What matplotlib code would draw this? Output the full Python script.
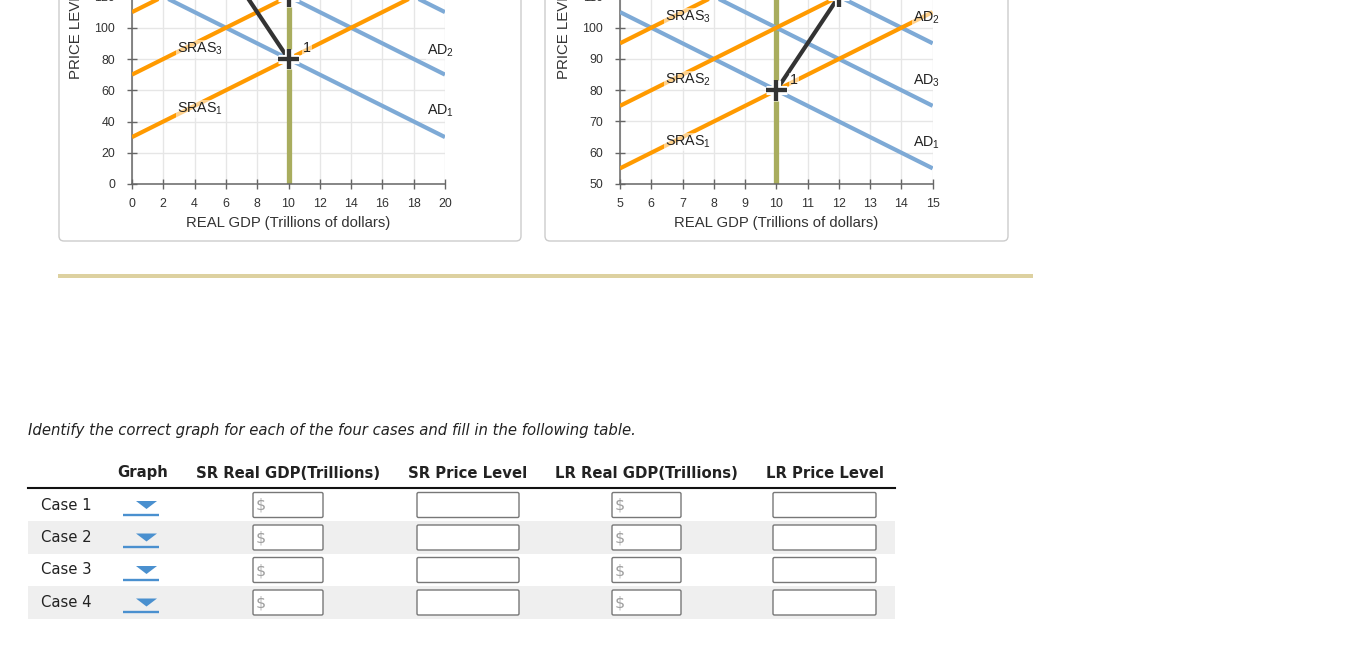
import matplotlib
matplotlib.use('Agg')
import matplotlib.pyplot as plt
from matplotlib.patches import FancyBboxPatch, Rectangle, Polygon
import matplotlib.patheffects as pe
import numpy as np

W, H = 1371, 650
DPI = 100

# ---------------- data ----------------
# Left graph (Real GDP 0-20, price level from 0)
left_x = [0, 20]
left_sras1 = [30, 130]
left_sras3 = [70, 170]
left_sras2 = [110, 210]
left_ad1 = [130, 30]
left_ad2 = [170, 70]
left_ad3 = [210, 110]
left_lras_x = 10
left_path_x = [10, 6]
left_path_y = [80, 140]
left_points_x = [10, 10]
left_points_y = [80, 120]
left_xticks = list(range(0, 21, 2))
left_yticks = list(range(0, 161, 20))

# Right graph (Real GDP 5-15, price level from 50)
right_x = [5, 15]
right_sras1 = [55, 105]
right_sras2 = [75, 125]
right_sras3 = [95, 145]
right_ad1 = [105, 55]
right_ad3 = [125, 75]
right_ad2 = [145, 95]
right_lras_x = 10
right_path_x = [10, 12]
right_path_y = [80, 110]
right_points_x = [10, 12]
right_points_y = [80, 110]
right_xticks = list(range(5, 16))
right_yticks = list(range(50, 131, 10))

# Table
cases = ['Case 1', 'Case 2', 'Case 3', 'Case 4']
headers = ['Graph', 'SR Real GDP(Trillions)', 'SR Price Level',
           'LR Real GDP(Trillions)', 'LR Price Level']
prompt = 'Identify the correct graph for each of the four cases and fill in the following table.'

ORANGE = '#ff9a00'
BLUE = '#7eaad6'
GREEN = '#a9ad5e'
BLACK = '#333333'
CHART_FONT = 'Liberation Sans'
TABLE_FONT = 'DejaVu Sans'
TFS = 10.7

plt.rcParams['mathtext.default'] = 'regular'
plt.rcParams['font.family'] = CHART_FONT

fig = plt.figure(figsize=(W / DPI, H / DPI), dpi=DPI)

# background axes in pixel coordinates
bg = fig.add_axes([0, 0, 1, 1], zorder=0)
bg.set_xlim(0, W)
bg.set_ylim(H, 0)
bg.axis('off')

# chart cards
for x0, x1 in [(59, 521), (545, 1008)]:
    card = FancyBboxPatch((x0, -30), x1 - x0, 241 + 30,
                          boxstyle='round,pad=0,rounding_size=5',
                          facecolor='white', edgecolor='#cccccc', lw=1.0)
    bg.add_patch(card)

# separator
bg.add_patch(Rectangle((58, 274), 1033 - 58, 4, facecolor='#ddd1a0', edgecolor='none'))

# y labels of charts (cut at the top, as in the reference)
for xc in [76.5, 564.5]:
    bg.text(xc, 79, 'PRICE LEVEL', rotation=90, ha='center', va='bottom',
            fontsize=10.8, color='#333333', family=CHART_FONT)


def make_chart(px_left, px_right, xlim, ybottom, px_per_y, ytop_px=-80):
    ytop = ybottom + (184 - ytop_px) / px_per_y
    ax = fig.add_axes([px_left / W, (H - 184) / H,
                       (px_right - px_left) / W, (184 - ytop_px) / H], zorder=2)
    ax.set_xlim(*xlim)
    ax.set_ylim(ybottom, ytop)
    ax.set_facecolor('none')
    for s in ['top', 'right']:
        ax.spines[s].set_visible(False)
    for s in ['left', 'bottom']:
        ax.spines[s].set_color('#666666')
        ax.spines[s].set_linewidth(1.1)
    ax.grid(True, color='#e6e6e6', lw=1.0, zorder=0)
    ax.set_axisbelow(True)
    ax.tick_params(direction='inout', length=6.5, width=1.0, color='#666666',
                   labelsize=8.9, labelcolor='#333333')
    ax.tick_params(axis='x', pad=7)
    ax.tick_params(axis='y', pad=9)
    ax.set_xlabel('REAL GDP (Trillions of dollars)', fontsize=10.7, color='#333333',
                  labelpad=4)
    return ax


def label(ax, x, y, s):
    ax.text(x, y, s, fontsize=10.3, color='#222222', ha='left', va='baseline', zorder=6,
            bbox=dict(facecolor='white', alpha=0.55, edgecolor='none', pad=0.5))


def marker(ax, x, y):
    ax.plot([x], [y], marker='+', ms=15, mew=3.1, color=BLACK, ls='none', zorder=7,
            clip_on=False,
            path_effects=[pe.Stroke(linewidth=6.6, foreground='white'), pe.Normal()])


# ---------------- left chart ----------------
axL = make_chart(132, 445, (0, 20), 0, 1.5625)
axL.set_xticks(left_xticks)
axL.set_yticks(left_yticks)
axL.axvline(left_lras_x, color=GREEN, lw=3.8, zorder=2)
for yv in [left_ad1, left_ad2, left_ad3]:
    axL.plot(left_x, yv, color=BLUE, lw=3.0, zorder=3, solid_capstyle='butt')
for yv in [left_sras1, left_sras3, left_sras2]:
    axL.plot(left_x, yv, color=ORANGE, lw=3.0, zorder=4, solid_capstyle='butt')
axL.plot(left_path_x, left_path_y, color=BLACK, lw=3.0, zorder=5)
for x, y in zip(left_points_x, left_points_y):
    marker(axL, x, y)
label(axL, 2.88, 83.8, 'SRAS$_3$')
label(axL, 2.88, 45.4, 'SRAS$_1$')
label(axL, 18.86, 82.5, 'AD$_2$')
label(axL, 18.86, 44.1, 'AD$_1$')
label(axL, 10.93, 84.4, '1')

# ---------------- right chart ----------------
axR = make_chart(620, 932.7, (5, 15), 50, 3.126)
axR.set_xticks(right_xticks)
axR.set_yticks(right_yticks)
axR.axvline(right_lras_x, color=GREEN, lw=3.8, zorder=2)
for yv in [right_ad1, right_ad3, right_ad2]:
    axR.plot(right_x, yv, color=BLUE, lw=3.0, zorder=3, solid_capstyle='butt')
for yv in [right_sras1, right_sras2, right_sras3]:
    axR.plot(right_x, yv, color=ORANGE, lw=3.0, zorder=4, solid_capstyle='butt')
axR.plot(right_path_x, right_path_y, color=BLACK, lw=3.0, zorder=5)
for x, y in zip(right_points_x, right_points_y):
    marker(axR, x, y)
label(axR, 6.44, 102.2, 'SRAS$_3$')
label(axR, 6.44, 82.2, 'SRAS$_2$')
label(axR, 6.44, 62.2, 'SRAS$_1$')
label(axR, 14.37, 101.9, 'AD$_2$')
label(axR, 14.37, 81.7, 'AD$_3$')
label(axR, 14.37, 61.9, 'AD$_1$')
label(axR, 10.44, 81.9, '1')

# ---------------- prompt and table ----------------
bg.text(28, 431, prompt, fontsize=TFS, style='italic', family=TABLE_FONT,
        color='#222222', va='center', ha='left')

header_x = [143, 288, 467.5, 646.5, 825]
for hx, htxt in zip(header_x, headers):
    bg.text(hx, 473, htxt, fontsize=TFS, weight='bold', family=TABLE_FONT,
            color='#222222', ha='center', va='center')

row_top = [489, 521, 554, 586]
row_h = [32, 33, 32, 33]
for i, (case, rt, rh) in enumerate(zip(cases, row_top, row_h)):
    if i % 2 == 1:
        bg.add_patch(Rectangle((28, rt), 895 - 28, rh, facecolor='#efefef',
                               edgecolor='none', zorder=1))
    yc = rt + rh / 2
    bg.text(41, yc, case, fontsize=TFS, family=TABLE_FONT, color='#222222',
            ha='left', va='center', zorder=3)
    # dropdown
    bg.add_patch(Polygon([[136, yc - 4], [157, yc - 4], [146.5, yc + 4]],
                         closed=True, facecolor='#4a90cf', edgecolor='none', zorder=3))
    bg.plot([123, 159], [yc + 9.5, yc + 9.5], color='#4a90cf', lw=1.7, zorder=3,
            solid_capstyle='butt')
    # input boxes
    for bx0, bx1, dollar in [(253, 323, True), (417, 519, False),
                             (612, 681, True), (773, 876, False)]:
        bg.add_patch(FancyBboxPatch((bx0, yc - 12.5), bx1 - bx0, 25,
                                    boxstyle='round,pad=0,rounding_size=1.5',
                                    facecolor='white', edgecolor='#777777',
                                    lw=1.0, zorder=3))
        if dollar:
            bg.text(bx0 + 3, yc + 0.5, '$', fontsize=11.5, family=TABLE_FONT,
                    color='#a0a0a0', ha='left', va='center', zorder=4)

bg.plot([28, 895], [488, 488], color='#111111', lw=1.5, zorder=3)

fig.savefig('out.png', dpi=DPI)
